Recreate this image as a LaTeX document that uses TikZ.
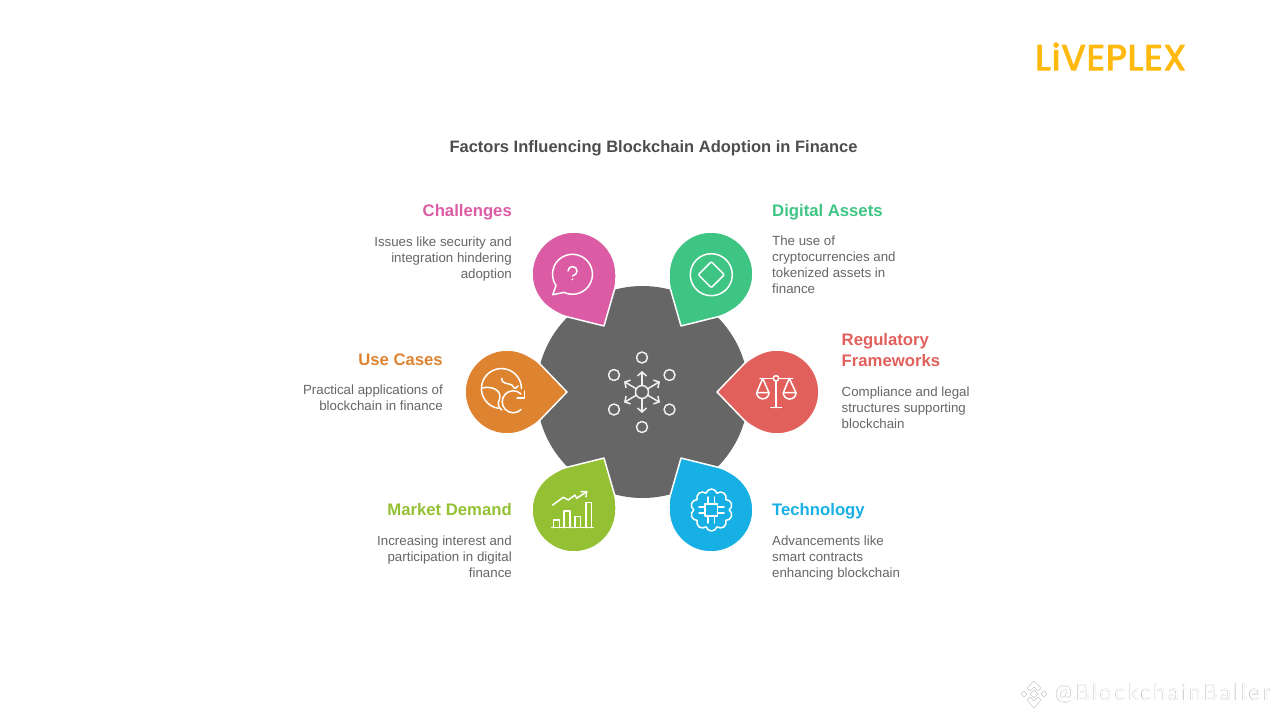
\documentclass[tikz,border=0pt]{standalone}
\usepackage{fontspec}
\setmainfont{Liberation Sans}
\newfontfamily\logofont[FakeBold=3,LetterSpace=2.5]{Poppins}
\newfontfamily\markfont[LetterSpace=11]{Lato}
\usetikzlibrary{arrows.meta,shapes.symbols}
\definecolor{dropPink}{HTML}{DB5CA5}
\definecolor{dropGreen}{HTML}{3EC584}
\definecolor{dropRed}{HTML}{E2605B}
\definecolor{dropOrange}{HTML}{DE8431}
\definecolor{dropLime}{HTML}{94C133}
\definecolor{dropBlue}{HTML}{17B0E5}
\definecolor{hubGrey}{HTML}{666666}
\definecolor{bodyGrey}{HTML}{666666}
\definecolor{titleGrey}{HTML}{4D4D4D}
\definecolor{logoYellow}{HTML}{FFB90F}
\begin{document}
\begin{tikzpicture}[x=1pt,y=-1pt,>=Latex,line cap=round,line join=round]
\tikzset{iconline/.style={draw=white,line width=1.5pt},hubline/.style={draw=white!90!hubGrey,line width=1.5pt},
headtext/.style={font=\fontsize{16.7}{21}\selectfont\bfseries,inner sep=0pt},
bodytext/.style={font=\fontsize{13.3}{16}\selectfont,text=bodyGrey,inner sep=0pt},
droplet/.pic={\path[pic actions,draw=white,line width=1.5pt] (60,0) -- (33,-28) .. controls (29,-32) and (25.3,-33.9) .. (21,-36.37) .. controls (8.01,-43.87) and (-8.01,-43.87) .. (-21,-36.37) .. controls (-33.99,-28.87) and (-42,-15) .. (-42,0) .. controls (-42,15) and (-33.99,28.87) .. (-21,36.37) .. controls (-8.01,43.87) and (8.01,43.87) .. (21,36.37) .. controls (25.3,33.9) and (29,32) .. (33,28) -- cycle;}}
\path[fill=white] (0,0) rectangle (1280,720);
\node[anchor=west,inner sep=0pt,text=logoYellow,font=\fontsize{36}{36}\selectfont\logofont] (logoText) at (1035,56.5) {LiVEPLEX};
\node[inner sep=0pt,text=titleGrey,font=\fontsize{16.5}{20}\selectfont\bfseries] (titleText) at (653.5,148) {Factors Influencing Blockchain Adoption in Finance};
\fill[hubGrey] (642.5,392) circle (106);
\pic[rotate=-60,fill=dropPink] at (574,274) {droplet};
\pic[rotate=-120,fill=dropGreen] at (711,274) {droplet};
\pic[rotate=180,fill=dropRed] at (777,392) {droplet};
\pic[rotate=120,fill=dropBlue] at (711,510) {droplet};
\pic[rotate=60,fill=dropLime] at (574,510) {droplet};
\pic[rotate=0,fill=dropOrange] at (507,392) {droplet};
\draw[hubline] (642,392) circle (6.5);
\draw[hubline] (642,357.5) circle (5.5); \draw[hubline] (669.5,375) circle (5.5); \draw[hubline] (669.5,409.5) circle (5.5);
\draw[hubline] (642,427) circle (5.5); \draw[hubline] (614,409.5) circle (5.5); \draw[hubline] (614,375) circle (5.5);
\tikzset{hubarrow/.style={hubline,-{Straight Barb[length=4pt,width=9pt]}}}
\draw[hubarrow] (642,385.5) -- (642,371); \draw[hubarrow] (642,398.5) -- (642,413);
\draw[hubarrow] (647.6,388.8) -- (660,381.5); \draw[hubarrow] (647.6,395.2) -- (660,402.5);
\draw[hubarrow] (636.4,388.8) -- (624,381.5); \draw[hubarrow] (636.4,395.2) -- (624,402.5);
\draw[iconline] (564,292.4) arc[start angle=115,end angle=-214.5,radius=20] -- (552.7,294.7) -- cycle;
\draw[iconline] (568,271) arc[start angle=180,end angle=400,radius=4.5] -- (572.5,276); \fill[white] (572.5,279.4) circle (1);
\draw[iconline] (711.3,274.7) circle (21);
\draw[iconline,rounded corners=1pt] (711.3,261.7) -- (724.3,274.7) -- (711.3,287.7) -- (698.3,274.7) -- cycle;
\draw[iconline] (776,381) -- (776,407.7); \draw[iconline] (770.7,407.7) -- (781.7,407.7);
\draw[iconline] (760,378.3) -- (773.3,378.3); \draw[iconline] (778.7,378.3) -- (792.7,378.3); \draw[iconline] (776,378.3) circle (2.7);
\draw[iconline] (762.7,378.3) -- (756.7,392.7) -- (769,392.7) -- cycle; \draw[iconline] (756.7,392.7) arc[start angle=180,end angle=0,radius=6.15];
\draw[iconline] (789.3,378.3) -- (783.3,392.7) -- (796,392.7) -- cycle; \draw[iconline] (783.3,392.7) arc[start angle=180,end angle=0,radius=6.35];
\draw[iconline] (498.3,408.3) arc[start angle=99,end angle=360,radius=20];
\draw[iconline] (482.7,388) .. controls (490,386) and (500,389) .. (500,396.7) .. controls (500,401) and (495,404) .. (501.7,410);
\draw[iconline] (501.7,378.3) .. controls (501,384) and (508,383) .. (511.7,385) .. controls (515,387) and (513,391) .. (518,386);
\draw[iconline] (521,394) arc[start angle=315,end angle=45,radius=11];
\draw[iconline] (524.5,391) -- (524.5,398) -- (517,398);
\draw[iconline] (551.7,527.7) -- (593.3,527.7);
\draw[iconline] (553.3,527.7) -- (553.3,520) -- (559.3,520) -- (559.3,527.7);
\draw[iconline] (564,527.7) -- (564,511) -- (570,511) -- (570,527.7);
\draw[iconline] (575,527.7) -- (575,516.7) -- (580.7,516.7) -- (580.7,527.7);
\draw[iconline] (586,527.7) -- (586,502.7) -- (591.7,502.7) -- (591.7,527.7);
\draw[iconline] (552.7,505) -- (563.3,497.3) -- (568.3,500) -- (575,495) -- (576.7,498.3) -- (586.7,491.7);
\draw[iconline] (581,491.7) -- (586.7,491.7) -- (586,497);
\node[cloud,cloud puffs=10,cloud puff arc=150,aspect=1,iconline,minimum width=42pt,minimum height=42pt,inner sep=0pt] (brainOutline) at (711.5,510) {};
\draw[iconline] (705,504) rectangle (717.5,516);
\draw[iconline] (708,504) -- (708,497); \draw[iconline] (714.5,504) -- (714.5,497); \draw[iconline] (708,516) -- (708,523); \draw[iconline] (714.5,516) -- (714.5,523);
\draw[iconline] (705,507) -- (699,507); \draw[iconline] (705,513) -- (699,513); \draw[iconline] (717.5,507) -- (724,507); \draw[iconline] (717.5,513) -- (724,513);
\node[headtext,anchor=base east,text=dropPink] (challengesHead) at (512,216) {Challenges};
\node[bodytext,anchor=east,align=right] (challengesBody) at (512,259) {Issues like security and\\integration hindering\\adoption};
\node[headtext,anchor=base west,text=dropGreen] (assetsHead) at (772,216) {Digital Assets};
\node[bodytext,anchor=west,align=left] (assetsBody) at (772,264.5) {The use of\\cryptocurrencies and\\tokenized assets in\\finance};
\node[headtext,anchor=west,align=left,text=dropRed] (regulatoryHead) at (841.5,350) {Regulatory\\Frameworks};
\node[bodytext,anchor=west,align=left] (regulatoryBody) at (841.5,408) {Compliance and legal\\structures supporting\\blockchain};
\node[headtext,anchor=base east,text=dropOrange] (useCasesHead) at (443,365.5) {Use Cases};
\node[bodytext,anchor=east,align=right] (useCasesBody) at (443,398) {Practical applications of\\blockchain in finance};
\node[headtext,anchor=base east,text=dropLime] (marketHead) at (512,515) {Market Demand};
\node[bodytext,anchor=east,align=right] (marketBody) at (512,557) {Increasing interest and\\participation in digital\\finance};
\node[headtext,anchor=base west,text=dropBlue] (technologyHead) at (772,515) {Technology};
\node[bodytext,anchor=west,align=left] (technologyBody) at (772,558) {Advancements like\\smart contracts\\enhancing blockchain};
\tikzset{markshape/.style={draw=black!22,fill=white,line width=0.5pt}}
\path[markshape] (1034,681) -- (1041,688) -- (1038,691) -- (1034,687) -- (1030,691) -- (1027,688) -- cycle;
\path[markshape] (1034,690) -- (1038,694) -- (1034,698) -- (1030,694) -- cycle;
\path[markshape] (1024,691) -- (1027,694) -- (1024,697) -- (1021,694) -- cycle;
\path[markshape] (1044,691) -- (1047,694) -- (1044,697) -- (1041,694) -- cycle;
\path[markshape] (1027,700) -- (1030,697) -- (1034,701) -- (1038,697) -- (1041,700) -- (1034,708) -- cycle;
\node[anchor=west,inner sep=0pt,text=black!40,font=\fontsize{22}{24}\selectfont\markfont] (markShade) at (1054.6,693.6) {@BlockchainBaller};
\node[anchor=west,inner sep=0pt,text=white,font=\fontsize{22}{24}\selectfont\markfont] (markText) at (1054.9,693.3) {@BlockchainBaller};
\end{tikzpicture}
\end{document}
